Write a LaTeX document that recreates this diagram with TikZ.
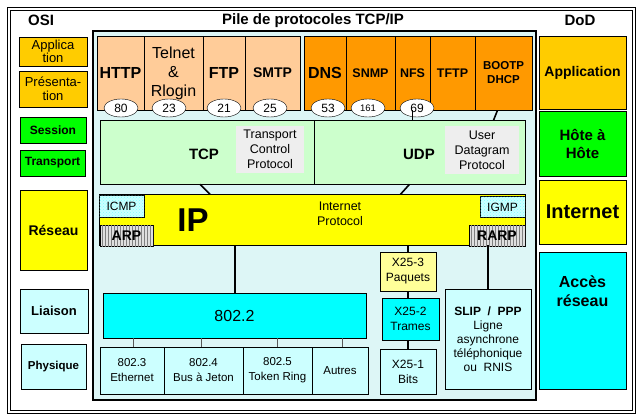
\documentclass[tikz,border=0pt]{standalone}
\usepackage{fontspec}
\setmainfont{Liberation Sans}
\usetikzlibrary{patterns,shapes.geometric}
\definecolor{peach}{HTML}{FFCC99}
\definecolor{orng}{HTML}{FF9900}
\definecolor{osiorg}{HTML}{FFCC00}
\definecolor{lgreen}{HTML}{CCFFCC}
\definecolor{lcyan}{HTML}{CCFFFF}
\definecolor{bgcyan}{HTML}{DDF6F6}
\definecolor{lyel}{HTML}{FFFF99}
\definecolor{lgray}{HTML}{EEEEEE}
\definecolor{cyn}{HTML}{00FFFF}
\definecolor{grn}{HTML}{00FF00}
\definecolor{yel}{HTML}{FFFF00}
\newcommand{\fs}[2]{\fontsize{#1}{#2}\selectfont}
\begin{document}
\begin{tikzpicture}[x=1pt,y=-1pt,
  bx/.style={draw=black,line width=0.6pt,inner sep=0pt,align=center},
  lk/.style={line width=1.6pt},
  tk/.style={line width=0.6pt,gray!70!black}]
\useasboundingbox (0,0) rectangle (640,418);
\fill[white] (0,0) rectangle (640,418);
\draw[line width=0.6pt] (7,7) rectangle (635,413);
\draw[line width=0.6pt] (10,10) rectangle (632,410);
% titles
\node[font=\bfseries\fs{15}{17}] (osi) at (41,20) {OSI};
\node[font=\bfseries\fs{15}{17}] (dod) at (580,20) {DoD};
\node[font=\bfseries\fs{15}{17}] (ttl) at (313,21) {Pile de protocoles TCP/IP};
% OSI column
\node[bx,fill=osiorg,minimum width=68,minimum height=29,font=\fs{13}{13}] (o1) at (53,51.5) {Applica\\tion};
\node[bx,fill=osiorg,minimum width=68,minimum height=36,font=\fs{13}{14}] (o2) at (53,89) {Présenta-\\tion};
\node[bx,fill=grn,minimum width=66,minimum height=26,font=\bfseries\fs{12}{14}] (o3) at (53,130) {Session};
\node[bx,fill=grn,minimum width=65,minimum height=26,font=\bfseries\fs{12}{14}] (o4) at (52.5,163) {Transport};
\node[bx,fill=yel,minimum width=67,minimum height=80,font=\bfseries\fs{14}{16}] (o5) at (53.5,230) {Réseau};
\node[bx,fill=lcyan,minimum width=68,minimum height=44,font=\bfseries\fs{13}{14}] (o6) at (54,311) {Liaison};
\node[bx,fill=lcyan,minimum width=65,minimum height=45,font=\bfseries\fs{11.5}{14}] (o7) at (53.5,366.5) {Physique};
% DoD column
\node[bx,fill=osiorg,minimum width=87,minimum height=73,font=\bfseries\fs{14}{16}] (d1) at (582.5,72.5) {Application};
\node[bx,fill=grn,minimum width=87,minimum height=65,font=\bfseries\fs{15}{18}] (d2) at (582.5,143.5) {Hôte à\\Hôte};
\node[bx,fill=yel,minimum width=87,minimum height=64,font=\bfseries\fs{20}{22}] (d3) at (582.5,212) {Internet};
\node[bx,fill=cyn,minimum width=87,minimum height=137,font=\bfseries\fs{16}{19}] (d4) at (582.5,320.5) {Accès\\réseau\\[40pt]};
% main stack frame
\draw[line width=2pt,fill=bgcyan] (93,31) rectangle (536,400);
% application layer
\node[bx,fill=peach,minimum width=47,minimum height=74,font=\bfseries\fs{16}{18}] (http) at (120.5,73) {HTTP};
\node[bx,fill=peach,minimum width=59,minimum height=74,font=\fs{16}{19}] (tel) at (173.5,73) {Telnet\\\&\\Rlogin};
\node[bx,fill=peach,minimum width=42,minimum height=74,font=\bfseries\fs{16}{18}] (ftp) at (224,73) {FTP};
\node[bx,fill=peach,minimum width=55,minimum height=74,font=\bfseries\fs{14}{18}] (smtp) at (272.5,73) {SMTP};
\node[bx,fill=orng,minimum width=42,minimum height=74,font=\bfseries\fs{16}{18}] (dns) at (325,73) {DNS};
\node[bx,fill=orng,minimum width=49,minimum height=74,font=\bfseries\fs{12.5}{18}] (snmp) at (370.5,73) {SNMP};
\node[bx,fill=orng,minimum width=35,minimum height=74,font=\bfseries\fs{12.5}{18}] (nfs) at (412.5,73) {NFS};
\node[bx,fill=orng,minimum width=45,minimum height=74,font=\bfseries\fs{12.5}{18}] (tftp) at (452.5,73) {TFTP};
\node[bx,fill=orng,minimum width=57,minimum height=74,font=\bfseries\fs{11.5}{14}] (boot) at (503.5,73) {BOOTP\\DHCP};
% ports
\foreach \n/\x/\t in {p80/121/80,p23/169/23,p21/224/21,p25/270/25,p53/328/53,p69/417/69}
  \node[draw,fill=white,ellipse,minimum width=34,minimum height=18,inner sep=0pt,font=\fs{12}{13}] (\n) at (\x,108) {\t};
\node[draw,fill=white,ellipse,minimum width=34,minimum height=18,inner sep=0pt,font=\fs{9.5}{10}] (p161) at (368,108) {161};
% TCP / UDP
\node[bx,fill=lgreen,minimum width=214,minimum height=64] (tcp) at (207,152) {};
\node[bx,fill=lgreen,minimum width=211,minimum height=64] (udp) at (419.5,152) {};
\node[font=\bfseries\fs{15}{17}] (tcpt) at (204,154) {TCP};
\node[font=\bfseries\fs{15}{17}] (udpt) at (419,154) {UDP};
\node[fill=lgray,minimum width=68,minimum height=47,inner sep=0pt,align=center,font=\fs{12.5}{15}] (tcpl) at (270,149.5) {Transport\\Control\\Protocol};
\node[fill=lgray,minimum width=74,minimum height=48,inner sep=0pt,align=center,font=\fs{12.5}{15}] (udpl) at (482,150) {User\\Datagram\\Protocol};
\draw[lk] (nfs.south) -- (udp.north -| nfs.south);
\draw[lk] (boot.south) ++(-6,0) coordinate (bs) -- ++(-4,10) coordinate (be);
% IP
\node[bx,fill=yel,minimum width=426,minimum height=51] (ip) at (312,219.5) {};
\draw[lk] (tcp.south) ++(-7,0) -- ++(10,10);
\draw[lk] (udp.south) ++(-10,0) -- ++(-9,10);
\node[font=\bfseries\fs{33}{35}] (ipt) at (193,220) {IP};
\node[align=center,font=\fs{12.5}{15}] (ipl) at (340,214) {Internet\\Protocol};
\node[bx,fill=lcyan,minimum width=45,minimum height=22,font=\fs{12}{13},postaction={pattern=crosshatch dots,pattern color=cyn!50}] (icmp) at (121.5,206) {ICMP};
\node[bx,fill=lcyan,minimum width=45,minimum height=21,font=\fs{12}{13},postaction={pattern=crosshatch dots,pattern color=cyn!50}] (igmp) at (502.5,207) {IGMP};
\node[bx,fill=gray!25,minimum width=53,minimum height=21,postaction={pattern=vertical lines,pattern color=gray}] (arp) at (126.5,235.5) {};
\node[font=\bfseries\fs{14}{15}] at (arp) {ARP};
\node[bx,fill=gray!25,minimum width=56,minimum height=21,postaction={pattern=vertical lines,pattern color=gray}] (rarp) at (497,235.5) {};
\node[font=\bfseries\fs{14}{15}] at (rarp) {RARP};
% network access
\node[bx,fill=cyn,minimum width=263,minimum height=45,font=\fs{16}{18}] (l8022) at (234.5,315.5) {802.2};
\node[bx,fill=lyel,minimum width=56,minimum height=39,font=\fs{12}{15}] (x3) at (408,271.5) {X25-3\\Paquets};
\node[bx,fill=cyn,minimum width=57,minimum height=42,font=\fs{12}{15}] (x2) at (410.5,319) {X25-2\\Trames};
\node[bx,fill=lcyan,minimum width=56,minimum height=45,font=\fs{12}{15}] (x1) at (408,371.5) {X25-1\\Bits};
\node[bx,fill=lcyan,minimum width=86,minimum height=100,font=\fs{12}{14}] (slip) at (488,339) {\textbf{SLIP\ \ /\ \ PPP}\\Ligne\\asynchrone\\téléphonique\\ou\ \ RNIS};
\draw[lk] (ip.south -| 235,0) -- (l8022.north -| 235,0);
\draw[lk] (ip.south -| x3.north) -- (x3.north);
\draw[lk] (x3.south) -- (x2.north -| x3.south);
\draw[lk] (x2.south -| x3.south) -- (x1.north);
\draw[lk] (ip.south -| 488,0) -- (slip.north -| 488,0);
\node[bx,fill=lcyan,minimum width=64,minimum height=47,font=\fs{11.5}{15}] (e3) at (132,370.5) {802.3\\Ethernet};
\node[bx,fill=lcyan,minimum width=79,minimum height=47,font=\fs{11.5}{15}] (e4) at (203.5,370.5) {802.4\\Bus à Jeton};
\node[bx,fill=lcyan,minimum width=69,minimum height=47,font=\fs{11.5}{15}] (e5) at (277.5,370.5) {802.5\\Token Ring};
\node[bx,fill=lcyan,minimum width=56,minimum height=47,font=\fs{11.5}{15}] (ea) at (340,370.5) {Autres};
\foreach \b/\x in {e3/133,e4/201,e5/277,ea/342}
  \draw[tk] (l8022.south -| \x,0) -- (\b.north -| \x,0);
\end{tikzpicture}
\end{document}
